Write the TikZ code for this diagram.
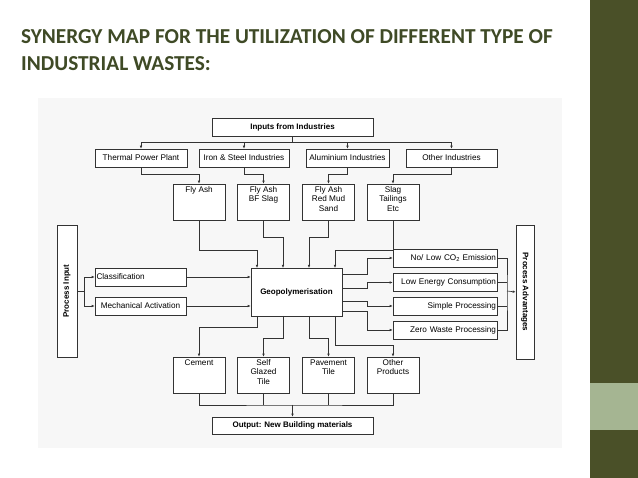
\documentclass[tikz,border=0pt]{standalone}
\usepackage{fontspec}
\setmainfont{Liberation Sans}
\newfontfamily\titlefont{Carlito}
\usetikzlibrary{arrows.meta,calc}
\definecolor{olive}{HTML}{4A5028}
\definecolor{lolive}{HTML}{A5B592}
\definecolor{ttl}{HTML}{3F4A26}
\definecolor{ln}{HTML}{333333}
\begin{document}
\begin{tikzpicture}[x=1pt,y=-1pt,
  box/.style={draw=ln,line width=0.6pt,inner sep=1pt,font=\fontsize{8.2}{9}\selectfont,align=center,fill=white},
  arr/.style={draw=ln,line width=0.6pt,-{Latex[length=3pt,width=2.6pt]}},
  ln/.style={draw=ln,line width=0.6pt}]
\fill[white] (0,0) rectangle (638,478);
\fill[gray!6] (38,98) rectangle (562,448);
\fill[olive] (590,0) rectangle (638,478);
\fill[lolive] (590,383) rectangle (638,430);
\node[anchor=north west,inner sep=0,align=left,text=ttl,font=\titlefont\bfseries\fontsize{21.3}{27}\selectfont] (title) at (21,29) {SYNERGY MAP FOR THE UTILIZATION OF DIFFERENT TYPE OF\\INDUSTRIAL WASTES:};
\node[box,minimum width=161,minimum height=18,font=\bfseries\fontsize{8}{9}\selectfont] (inp) at (292.5,127) {Inputs from Industries};
\node[box,minimum width=92,minimum height=18] (tpp) at (141,158) {Thermal Power Plant};
\node[box,minimum width=90,minimum height=18] (iron) at (244,158) {Iron \& Steel Industries};
\node[box,minimum width=83,minimum height=18] (alum) at (347.5,158) {Aluminium Industries};
\node[box,minimum width=91,minimum height=18] (oth) at (451.5,158) {Other Industries};
\foreach \n/\x in {fa/199, fb/263.5, fc/328.5, fd/393}
  \node[box,minimum width=52,minimum height=36] (\n) at (\x,202) {};
\foreach \n/\t in {fa/Fly Ash, fb/{Fly Ash\\BF Slag}, fc/{Fly Ash\\Red Mud\\Sand}, fd/{Slag\\Tailings\\Etc}}
  \node[anchor=north,inner sep=2.5pt,font=\fontsize{8.2}{9.5}\selectfont,align=center] (\n t) at (\n.north) {\t};
\node[box,minimum width=91,minimum height=48,font=\bfseries\fontsize{8}{9}\selectfont] (geo) at (296.5,292) {Geopolymerisation};
\node[box,minimum width=20,minimum height=132] (pi) at (67,291) {};
\node[rotate=90,font=\bfseries\fontsize{8}{9}\selectfont] (pit) at (pi.center) {Process Input};
\node[box,minimum width=91,minimum height=18,text width=88,align=left] (cl) at (140.5,277) {Classification};
\node[box,minimum width=91,minimum height=18] (ma) at (140.5,306) {Mechanical Activation};
\node[box,minimum width=104,minimum height=18,text width=102,align=right] (r1) at (445,258) {No/ Low CO\textsubscript{2} Emission};
\node[box,minimum width=104,minimum height=18,text width=102,align=right] (r2) at (445,282.5) {Low Energy Consumption};
\node[box,minimum width=104,minimum height=18,text width=102,align=right] (r3) at (445,306) {Simple Processing};
\node[box,minimum width=104,minimum height=18,text width=102,align=right] (r4) at (445,330) {Zero Waste Processing};
\node[box,minimum width=18,minimum height=134] (pa) at (525,292) {};
\node[rotate=-90,font=\bfseries\fontsize{8}{9}\selectfont] (pat) at (pa.center) {Process Advantages};
\foreach \n/\x in {ce/199, sg/263.5, pt/328.5, op/393}
  \node[box,minimum width=52,minimum height=36] (\n) at (\x,375) {};
\foreach \n/\t in {ce/Cement, sg/{Self\\Glazed\\Tile}, pt/{Pavement\\Tile}, op/{Other\\Products}}
  \node[anchor=north,inner sep=2.5pt,font=\fontsize{8.2}{9.5}\selectfont,align=center] (\n t) at (\n.north) {\t};
\node[box,minimum width=161,minimum height=17,font=\bfseries\fontsize{8}{9}\selectfont] (out) at (292.5,425.5) {Output: New Building materials};
\coordinate (b0) at (292.5,142);
\coordinate (g1) at (257,268); \coordinate (g2) at (283,268);
\coordinate (g3) at (309,268); \coordinate (g4) at (335,268);
\coordinate (h1) at (257,316); \coordinate (h2) at (283,316);
\coordinate (h3) at (309,316); \coordinate (h4) at (335,316);
\coordinate (k1) at (342,274); \coordinate (k2) at (342,288);
\coordinate (k3) at (342,301); \coordinate (k4) at (342,311);
\coordinate (pj) at (84,291);
\coordinate (rj) at (507,291);
\coordinate (bj) at (292.5,405);
\draw[ln] (inp.south) -- (b0);
\foreach \n in {tpp,iron,alum,oth} \draw[arr] (b0) -| (\n.north);
\draw[arr] (tpp.south) -- ++(0,7) -| (fa.north);
\draw[arr] (iron.south) -- ++(0,7) -| (fb.north);
\draw[arr] (alum.south) -- ++(0,7) -| (fc.north);
\draw[arr] (oth.south) -- ++(0,7) -| (fd.north);
\draw[arr] (fa.south) -- ++(0,30) -| (g1);
\draw[arr] (fb.south) -- ++(0,17) -| (g2);
\draw[arr] (fc.south) -- ++(0,17) -| (g3);
\draw[arr] (fd.south) -- ++(0,30) -| (g4);
\draw[ln] (pi.east) -- (pj);
\draw[arr] (pj) |- (cl.west);
\draw[arr] (pj) |- (ma.west);
\draw[arr] (cl.east) -- (cl.east -| geo.west);
\draw[arr] (ma.east) -- (ma.east -| geo.west);
\draw[arr] (k1) -- ++(25,0) |- (r1.west);
\draw[arr] (k2) -- ++(25,0) |- (r2.west);
\draw[arr] (k3) -- ++(25,0) |- (r3.west);
\draw[arr] (k4) -- ++(25,0) |- (r4.west);
\draw[ln] (r1.east) -| (rj) |- (r4.east);
\draw[ln] (r2.east) -- (r2.east -| rj);
\draw[ln] (r3.east) -- (r3.east -| rj);
\draw[arr] (rj) -- (pa.west);
\draw[arr] (h1) -- ++(0,11) -| (ce.north);
\draw[arr] (h2) -- ++(0,22) -| (sg.north);
\draw[arr] (h3) -- ++(0,22) -| (pt.north);
\draw[arr] (h4) -- ++(0,29) -| (op.north);
\draw[ln] (ce.south) |- (bj) -| (op.south);
\draw[ln] (sg.south) -- (sg.south |- bj);
\draw[ln] (pt.south) -- (pt.south |- bj);
\draw[arr] (bj) -- (out.north);
\end{tikzpicture}
\end{document}
